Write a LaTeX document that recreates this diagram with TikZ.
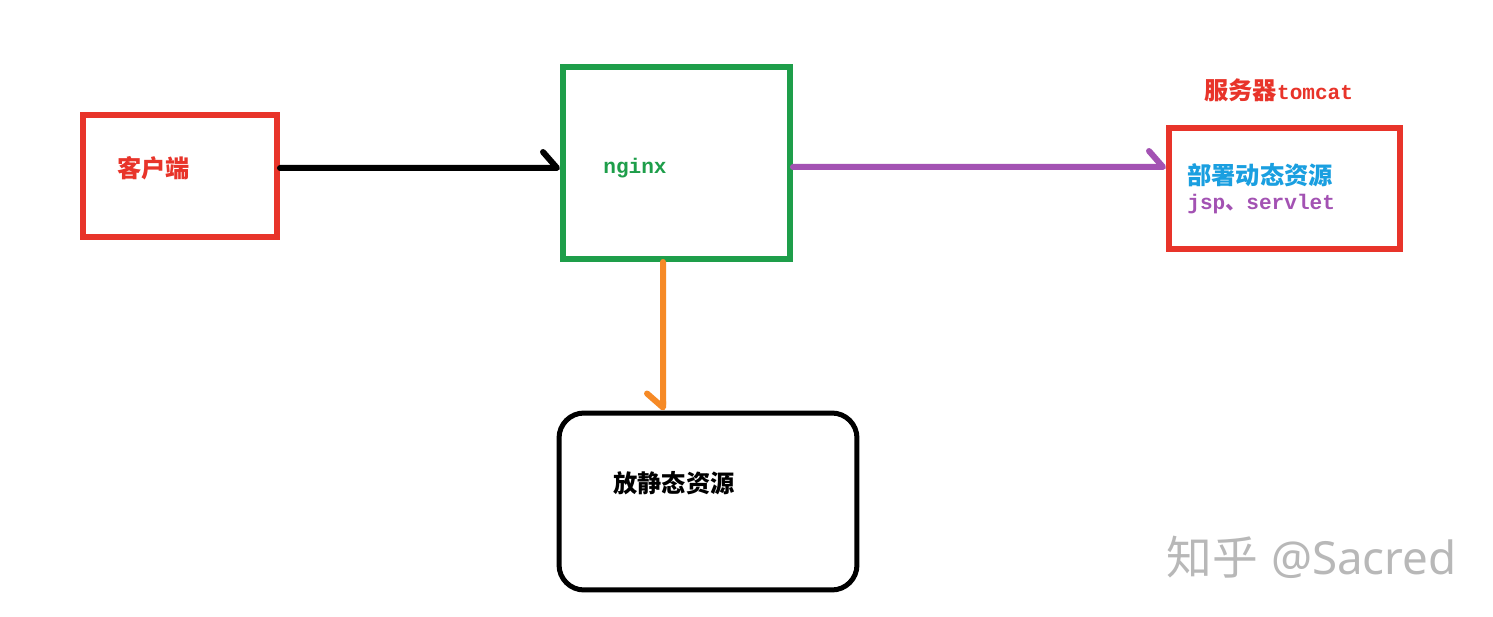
\documentclass[tikz,border=0pt]{standalone}
\usepackage{fontspec}
\usetikzlibrary{arrows.meta}
\newfontfamily\cjk{Noto Sans CJK SC}
\newfontfamily\mono{Liberation Mono}
\newfontfamily\wmfont{Noto Sans}
\definecolor{boxred}{HTML}{E8342A}
\definecolor{boxgreen}{HTML}{1E9E4A}
\definecolor{arrowpurple}{HTML}{A352B3}
\definecolor{arroworange}{HTML}{F68A26}
\definecolor{textblue}{HTML}{1A9FE0}
\definecolor{wmgrey}{HTML}{B8B8B8}
\tikzset{
  boxline/.style={draw, line width=0.12cm, inner sep=0pt},
  barb/.style={line width=0.12cm, line cap=round,
    -{Straight Barb[harpoon, round, length=0.28cm, width=0.64cm]}},
  cjklabel/.style={font=\cjk\bfseries\fontsize{13.8}{15}\selectfont, inner sep=0pt, anchor=west},
  monolabel/.style={font=\mono\bfseries\fontsize{12}{14}\selectfont, inner sep=0pt, anchor=west},
}

\begin{document}
\begin{tikzpicture}[x=0.02cm, y=-0.02cm]
        \useasboundingbox[fill=white] (0,0) rectangle (1493,617);
        % boxes
        \node (client) [boxline, boxred, minimum width=3.88cm, minimum height=2.44cm] at (180,176) {};
        \node (nginx) [boxline, boxgreen, minimum width=4.54cm, minimum height=3.84cm] at (676.5,163) {};
        \node (tomcat) [boxline, boxred, minimum width=4.62cm, minimum height=2.42cm] at (1284.5,188.5) {};
        \node (static) [boxline, black, line width=0.1cm, rounded corners=0.5cm, minimum width=5.96cm, minimum height=3.54cm] at (708,501.5) {};
        % texts
        \node (clienttext) [cjklabel, boxred] at (117,168) {客户端};
        \node (nginxtext) [monolabel, boxgreen] at (603,168) {nginx};
        \node (servername) [boxred, inner sep=0pt, anchor=west] at (1204,90) {{\cjk\bfseries\fontsize{13.8}{15}\selectfont 服务器}{\mono\bfseries\fontsize{12}{14}\selectfont tomcat}};
        \node (dynamic) [cjklabel, textblue] at (1187,175) {部署动态资源};
        \node (jsp) [monolabel, arrowpurple] at (1187,204) {jsp{\cjk 、}servlet};
        \node (statictext) [cjklabel, black] at (613,483) {放静态资源};
        \node (mark) [wmgrey, inner sep=0pt, anchor=west] at (1166,557) {{\cjk\fontsize{26}{30}\selectfont 知乎}\hspace{0.15cm} {\wmfont\fontsize{26}{30}\selectfont @Sacred}};
        % arrows
        \draw [barb, black] ([yshift=0.16cm]client.east) -- ([yshift=-0.1cm]nginx.west);
        \draw [barb, arrowpurple] ([yshift=-0.08cm]nginx.east) -- ([yshift=0.43cm]tomcat.west);
        \draw [barb, arroworange, -{Straight Barb[harpoon, swap, round, length=0.28cm, width=0.64cm]}] ([xshift=-0.27cm]nginx.south) -- ([xshift=-0.9cm]static.north);
    \end{tikzpicture}
\end{document}
